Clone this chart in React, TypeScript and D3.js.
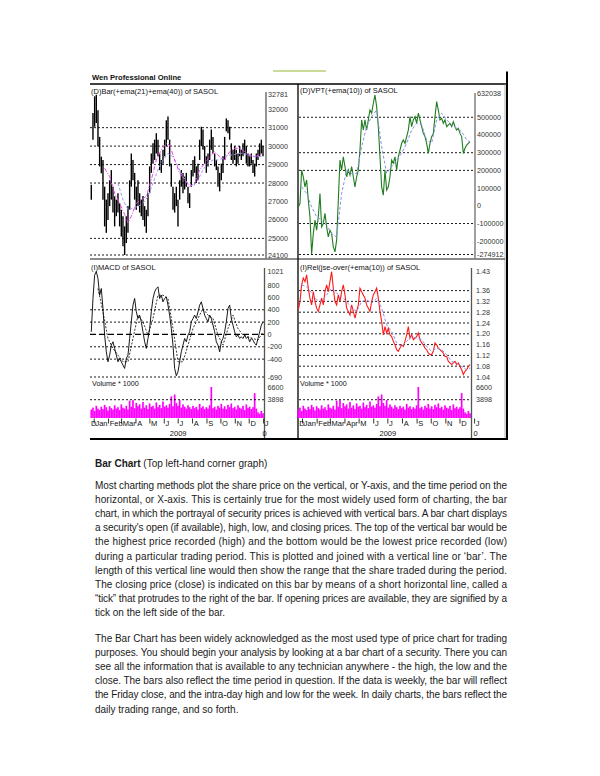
import React from 'react';
import * as d3 from 'd3';

// SASOL 2009, one bar every ~2.5 trading days
const priceHigh = [
  27900, 31800, 32700, 32781, 31950, 30500, 29430, 29250, 27800, 27100,
  27450, 28150, 28700, 27800, 27280, 27100, 27450, 26900, 26550, 26200,
  25650, 26200, 26750, 28150, 29600, 29250, 28550, 27800, 28150, 27450,
  27100, 27300, 26750, 26550, 27450, 28900, 29600, 30150, 30350, 30700,
  30350, 29600, 29250, 29800, 30350, 31400, 31600, 30350, 29050, 27800,
  27450, 27800, 27100, 28150, 28700, 28550, 28350, 28550, 27800, 27450,
  28700, 29250, 29450, 28900, 29050, 30350, 31050, 30900, 30000, 29450,
  29600, 30350, 30900, 30500, 29600, 29250, 28900, 28550, 29050, 29450,
  30500, 31500, 31400, 31050, 30150, 29800, 30000, 29800, 29600, 30000,
  29800, 30150, 30350, 30000, 29600, 29450, 29600, 29250, 29050, 29600,
  29800, 30150, 30350, 30000,
];
const priceLow = [
  27100, 30350, 31050, 31250, 29980, 28900, 28530, 27100, 25650, 25300,
  26000, 26750, 27100, 26400, 25650, 26200, 26400, 25650, 25100, 24570,
  24100, 24750, 25300, 26550, 27800, 28150, 27100, 26550, 26750, 26400,
  26200, 26000, 25650, 25300, 26200, 27450, 28550, 29050, 29250, 29600,
  29450, 28700, 28550, 29050, 29450, 30000, 30350, 28900, 27800, 26550,
  26400, 26750, 25650, 27100, 27800, 27450, 27650, 27800, 26900, 26650,
  27800, 28350, 28550, 28000, 28150, 29250, 30000, 29800, 29050, 28550,
  28900, 29250, 29800, 29600, 28900, 28700, 27800, 27550, 28150, 28550,
  29250, 30800, 30700, 30350, 29250, 29050, 29250, 28900, 29050, 29450,
  29250, 29450, 29600, 29050, 28900, 28900, 29050, 28550, 28350, 28900,
  29250, 29450, 29600, 29450,
];
const ema21Day = [8, 11, 14, 17, 20, 22, 24, 27, 30, 33, 36, 39, 42, 45, 47, 50, 53, 56, 59, 62, 65, 68, 71, 74, 77, 80, 83, 86, 89, 92, 95, 98, 101, 103];
const ema21 = [28800, 28350, 27450, 26900, 26300, 25850, 26200, 26900, 27100, 27280, 28170, 29250, 29800, 30150, 30060, 29250, 28530, 28170, 27810, 28000, 28710, 29070, 29430, 29700, 29430, 29250, 29700, 29880, 29880, 29700, 29520, 29430, 29520, 29610];
const ema40Day = [16, 19, 22, 25, 28, 31, 34, 37, 40, 43, 46, 49, 52, 55, 58, 61, 64, 67, 70, 73, 76, 79, 82, 85, 88, 91, 94, 97, 100, 103];
const ema40 = [27990, 27090, 26550, 26640, 26730, 26910, 27270, 27990, 28710, 29250, 29610, 29430, 28900, 28350, 27990, 27810, 28170, 28710, 29070, 29250, 29250, 29340, 29520, 29520, 29610, 29610, 29520, 29430, 29430, 29430];

// VPT in thousands
const vpt = [
  -6, 13, 202, 164, 107, 145, 32, -62, -272, -157,
  -81, -138, -62, 70, -119, -100, -43, -119, -176, -138,
  -157, -232, -260, -194, 32, 258, 202, 277, 221, 164,
  202, 173, 221, 164, 107, 164, 202, 315, 485, 428,
  485, 428, 485, 541, 523, 579, 626, 560, 447, 277,
  107, 60, 202, 89, 107, 164, 258, 240, 277, 202,
  277, 315, 353, 372, 353, 391, 428, 504, 447, 485,
  504, 466, 523, 485, 447, 409, 391, 353, 296, 353,
  391, 409, 504, 589, 541, 485, 494, 466, 485, 447,
  457, 466, 447, 475, 447, 428, 438, 409, 391, 296,
  325, 343, 353, 362,
];
const vptEmaDay = [2, 5, 8, 11, 14, 17, 20, 23, 26, 29, 32, 35, 38, 41, 44, 47, 50, 53, 56, 59, 62, 65, 68, 71, 74, 77, 80, 83, 86, 89, 92, 95, 98, 101, 103];
const vptEma = [107, 70, -6, -62, -81, -110, -157, -176, 70, 202, 183, 183, 334, 447, 504, 541, 334, 183, 221, 258, 296, 353, 428, 466, 457, 372, 353, 485, 523, 485, 457, 438, 419, 372, 362];

const macd = [
  43, 583, 961, 1021, 907, 637, 745, 421, -11, -281,
  -443, -335, -173, -119, -227, -335, -443, -389, -443, -497,
  -551, -389, -335, -65, 205, 475, 583, 367, 259, 313,
  205, 43, -119, -227, -65, 97, 367, 583, 691, 745,
  772, 583, 637, 529, 583, 610, 475, 313, 97, -173,
  -551, -670, -605, -443, -281, -173, -65, -119, -11, 43,
  205, 259, 313, 259, 367, 475, 529, 421, 313, 259,
  205, 313, 259, 151, 43, -119, -173, -281, -119, -65,
  43, 205, 421, 475, 259, 151, 43, -38, -11, -65,
  -38, -65, -11, -65, -38, -119, -65, -92, -146, -173,
  -65, 43, 151, 205,
];
const signalDay = [4, 7, 10, 13, 16, 19, 22, 25, 28, 31, 34, 37, 40, 43, 46, 49, 52, 55, 58, 61, 64, 67, 70, 73, 76, 79, 82, 85, 88, 91, 94, 97, 100, 103];
const signal = [745, 367, -65, -227, -335, -443, -443, -65, 313, 205, -11, 259, 637, 637, 583, 97, -443, -443, -173, 97, 259, 421, 313, 259, -11, -173, 97, 313, 97, -11, -38, -65, -92, 43];

const ratio = [
  1.289, 1.319, 1.381, 1.406, 1.393, 1.418, 1.369, 1.332, 1.307, 1.356,
  1.319, 1.295, 1.283, 1.307, 1.332, 1.307, 1.356, 1.381, 1.356, 1.393,
  1.430, 1.369, 1.319, 1.307, 1.344, 1.319, 1.356, 1.381, 1.344, 1.295,
  1.283, 1.270, 1.307, 1.283, 1.258, 1.283, 1.307, 1.369, 1.356, 1.344,
  1.332, 1.307, 1.295, 1.283, 1.319, 1.344, 1.356, 1.369, 1.332, 1.283,
  1.246, 1.196, 1.227, 1.203, 1.221, 1.196, 1.190, 1.172, 1.159, 1.141,
  1.135, 1.147, 1.159, 1.153, 1.172, 1.196, 1.227, 1.184, 1.196, 1.178,
  1.184, 1.190, 1.203, 1.178, 1.166, 1.159, 1.147, 1.141, 1.129, 1.123,
  1.123, 1.135, 1.166, 1.159, 1.147, 1.141, 1.135, 1.129, 1.116, 1.116,
  1.098, 1.092, 1.086, 1.092, 1.098, 1.086, 1.092, 1.079, 1.067, 1.049,
  1.061, 1.067, 1.079, 1.086,
];
const ratioEmaDay = vptEmaDay;
const ratioEma = [1.381, 1.375, 1.350, 1.326, 1.319, 1.344, 1.369, 1.350, 1.338, 1.319, 1.295, 1.283, 1.319, 1.326, 1.313, 1.332, 1.295, 1.233, 1.209, 1.166, 1.153, 1.172, 1.190, 1.184, 1.178, 1.153, 1.135, 1.147, 1.141, 1.123, 1.098, 1.092, 1.079, 1.067, 1.073];

// volume in thousands
const volume = [
  1800, 2200, 1500, 2600, 2000, 1700, 2400, 1900, 2800, 2300,
  1600, 2500, 2100, 1800, 2700, 2000, 2300, 1700, 2900, 2200,
  2000, 2600, 1800, 3700, 2400, 3800, 2100, 3200, 2500, 2900,
  2000, 3400, 2200, 2700, 1900, 3100, 2400, 2600, 2000, 3300,
  2300, 2800, 2100, 3500, 2400, 2700, 2200, 3000, 4600, 2500,
  5000, 3200, 2600, 3800, 2200, 2900, 2400, 2000, 2700, 2300,
  1900, 2600, 2100, 2400, 1800, 3000, 2200, 2500, 1900, 2300,
  2000, 2700, 6600, 2100, 2400, 1800, 2600, 2200, 3000, 2000,
  2500, 1900, 2800, 2300, 3100, 2100, 2400, 1800, 2700, 2200,
  2000, 2600, 1700, 2900, 2100, 2400, 1900, 2300, 5300, 2000,
  1200, 900, 1500, 1000,
];

const priceTicks = [32781, 32000, 31000, 30000, 29000, 28000, 27000, 26000, 25000, 24100];
const priceGrid = [31000, 30000, 29000, 28000, 25000, 24100];
const vptTicks = [632038, 500000, 400000, 300000, 200000, 100000, 0, -100000, -200000, -274912];
const vptGrid = [500000, 300000, 200000, -100000, -274912];
const macdTicks = [1021, 800, 600, 400, 200, 0, -200, -400, -690];
const macdGrid = [400, 200, -200, -400, -690];
const ratioTicks = [1.43, 1.36, 1.32, 1.28, 1.24, 1.20, 1.16, 1.12, 1.08, 1.04];
const ratioGrid = [1.36, 1.32, 1.28, 1.24, 1.20, 1.16, 1.12, 1.08, 1.04];
const volTicks = [6600, 3898];
const volGrid = [3898];
const monthsLeft = ['Jan', 'Feb', 'Mar', 'A', 'M', 'J', 'J', 'A', 'S', 'O', 'N', 'D', 'J'];
const monthsRight = ['Jan', 'Feb', 'Mar', 'Apr', 'M', 'J', 'J', 'A', 'S', 'O', 'N', 'D', 'J'];

const para1 = [
  'Most charting methods plot the share price on the vertical, or Y-axis, and the time period on the',
  'horizontal, or X-axis. This is certainly true for the most widely used form of charting, the bar',
  'chart, in which the portrayal of security prices is achieved with vertical bars. A bar chart displays',
  "a security's open (if available), high, low, and closing prices. The top of the vertical bar would be",
  'the highest price recorded (high) and the bottom would be the lowest price recorded (low)',
  'during a particular trading period. This is plotted and joined with a vertical line or \u2018bar\u2019. The',
  'length of this vertical line would then show the range that the share traded during the period.',
  'The closing price (close) is indicated on this bar by means of a short horizontal line, called a',
  '\u201Ctick\u201D that protrudes to the right of the bar. If opening prices are available, they are signified by a',
  'tick on the left side of the bar.',
];
const para2 = [
  'The Bar Chart has been widely acknowledged as the most used type of price chart for trading',
  'purposes. You should begin your analysis by looking at a bar chart of a security. There you can',
  'see all the information that is available to any technician anywhere - the high, the low and the',
  'close. The bars also reflect the time period in question. If the data is weekly, the bar will reflect',
  'the Friday close, and the intra-day high and low for the week. In daily charts, the bars reflect the',
  'daily trading range, and so forth.',
];

const FONT = "'Liberation Sans', Arial, sans-serif";

const Grid = ({ vals, y, x0, x1 }: { vals: number[]; y: (v: number) => number; x0: number; x1: number }) => (
  <g>
    {vals.map((v, i) => (
      <line key={i} x1={x0} x2={x1} y1={y(v)} y2={y(v)} stroke="#000" strokeWidth={0.9} strokeDasharray="2,2" />
    ))}
  </g>
);

const Labels = ({ vals, y, x, fmt }: { vals: number[]; y: (v: number) => number; x: number; fmt?: (v: number) => string }) => (
  <g fontSize={7.2} fill="#333">
    {vals.map((v, i) => (
      <text key={i} x={x} y={y(v) + 2.5}>{fmt ? fmt(v) : String(v)}</text>
    ))}
  </g>
);

const MonthAxis = ({ t, labels, yearX }: { t: d3.ScaleTime<number, number>; labels: string[]; yearX: number }) => {
  const months = d3.timeMonth.range(new Date(2009, 0, 1), new Date(2010, 0, 2));
  const x0 = t.range()[0];
  return (
    <g fontSize={7.5} fill="#111">
      <text x={x0 + 1} y={425.5}>D</text>
      {months.map((m, i) => (
        <g key={i}>
          <line x1={t(m)} x2={t(m)} y1={418.5} y2={423.5} stroke="#000" strokeWidth={0.8} />
          <text x={t(m) + 1.2} y={425.5}>{labels[i]}</text>
        </g>
      ))}
      <text x={yearX} y={435.5} textAnchor="middle">2009</text>
      <text x={t(months[months.length - 1]) - 1} y={435.5}>0</text>
    </g>
  );
};

export default function App() {
  const leftX = d3.scaleLinear().domain([0, 103]).range([91.3, 263]);
  const rightX = d3.scaleLinear().domain([0, 103]).range([298.3, 470]);
  const leftT = d3.scaleTime().domain([new Date(2008, 11, 23), new Date(2010, 0, 4)]).range([90, 265]);
  const rightT = d3.scaleTime().domain([new Date(2008, 11, 23), new Date(2010, 0, 4)]).range([298.3, 476]);

  const yPrice = d3.scaleLinear().domain([24100, 32781]).range([255, 94.8]);
  const yVpt = d3.scaleLinear().domain([-274912, 632038]).range([254.5, 93.9]);
  const yMacd = d3.scaleLinear().domain([-690, 1021]).range([377, 271.5]);
  const yRatio = d3.scaleLinear().domain([1.04, 1.43]).range([377, 271.7]);
  const yVol = d3.scaleLinear().domain([0, 6600]).range([418, 387]);

  const dayLine = (x: d3.ScaleLinear<number, number>, y: d3.ScaleLinear<number, number>, days: number[]) =>
    d3.line<number>().x((_, i) => x(days[i])).y((d) => y(d));
  const seqLine = (x: d3.ScaleLinear<number, number>, y: d3.ScaleLinear<number, number>, k = 1) =>
    d3.line<number>().x((_, i) => x(i)).y((d) => y(d * k));

  const midYear = new Date(2009, 6, 1);

  const volBars = (x: d3.ScaleLinear<number, number>) =>
    volume.map((v, i) => (
      <rect key={i} x={x(i) - 0.85} width={1.7} y={yVol(v)} height={yVol(0) - yVol(v)} fill="#ff00ff" />
    ));

  return (
    <svg width={600} height={776} style={{ position: 'absolute', left: 0, top: 0, background: '#fff' }} fontFamily={FONT}>
      <rect width={600} height={776} fill="#fff" />

      {/* frame */}
      <line x1={273} x2={326} y1={71} y2={71} stroke="#b9cf78" strokeWidth={1.6} />
      <text x={92} y={79.5} fontSize={7.6} fontWeight="bold" fill="#111">Wen Professional Online</text>
      <line x1={90} x2={508} y1={84} y2={84} stroke="#000" strokeWidth={1.6} />
      <line x1={507} x2={507} y1={71.5} y2={440} stroke="#000" strokeWidth={2} />
      <line x1={505} x2={505} y1={84} y2={439} stroke="#999" strokeWidth={0.8} />
      <line x1={90} x2={508} y1={439} y2={439} stroke="#000" strokeWidth={2} />
      <line x1={298} x2={298} y1={84} y2={439} stroke="#000" strokeWidth={1.3} />
      <line x1={90} x2={505} y1={259} y2={259} stroke="#000" strokeWidth={0.9} />

      {/* top-left: bars + emas */}
      <text x={91} y={93.5} fontSize={7.5} fill="#111">(D)Bar(+ema(21)+ema(40)) of SASOL</text>
      <Grid vals={priceGrid} y={yPrice} x0={90} x1={265} />
      {priceHigh.map((h, i) => (
        <line key={i} x1={leftX(i)} x2={leftX(i)} y1={yPrice(h)} y2={yPrice(priceLow[i])} stroke="#000" strokeWidth={1.4} />
      ))}
      <path d={dayLine(leftX, yPrice, ema40Day)(ema40) || ''} fill="none" stroke="#9a9af0" strokeWidth={1} strokeDasharray="3,2" />
      <path d={dayLine(leftX, yPrice, ema21Day)(ema21) || ''} fill="none" stroke="#f040f0" strokeWidth={1} strokeDasharray="4,1.5,1,1.5" />
      <line x1={266} x2={266} y1={92} y2={258.5} stroke="#666" strokeWidth={1.4} />
      <Labels vals={priceTicks} y={yPrice} x={268} />

      {/* top-right: VPT */}
      <text x={300} y={93} fontSize={7.5} fill="#111">(D)VPT(+ema(10)) of SASOL</text>
      <Grid vals={vptGrid} y={yVpt} x0={299} x1={475} />
      <path d={seqLine(rightX, yVpt, 1000)(vpt) || ''} fill="none" stroke="#1f7d1f" strokeWidth={1.1} />
      <path d={dayLine(rightX, (v: number) => yVpt(v * 1000), vptEmaDay)(vptEma) || ''} fill="none" stroke="#8e8ee8" strokeWidth={1} strokeDasharray="3,2" />
      <line x1={475} x2={475} y1={93} y2={258.5} stroke="#777" strokeWidth={1.4} />
      <Labels vals={vptTicks} y={yVpt} x={477} />

      {/* bottom-left: MACD + volume */}
      <text x={91} y={269.5} fontSize={7.5} fill="#111">(I)MACD of SASOL</text>
      <Grid vals={macdGrid} y={yMacd} x0={90} x1={264} />
      <line x1={90} x2={264} y1={yMacd(0)} y2={yMacd(0)} stroke="#000" strokeWidth={1.3} strokeDasharray="6,3" />
      <path d={dayLine(leftX, yMacd, signalDay)(signal) || ''} fill="none" stroke="#000" strokeWidth={0.8} strokeDasharray="2,1.5" />
      <path d={seqLine(leftX, yMacd)(macd) || ''} fill="none" stroke="#000" strokeWidth={0.9} />
      <Labels vals={macdTicks} y={yMacd} x={267.5} />
      <text x={92} y={386} fontSize={7.2} fill="#111">Volume * 1000</text>
      {volBars(leftX)}
      <Grid vals={volGrid} y={yVol} x0={90} x1={264} />
      <Labels vals={volTicks} y={yVol} x={267.5} />
      <line x1={264.5} x2={264.5} y1={268} y2={438} stroke="#555" strokeWidth={1.3} />
      <MonthAxis t={leftT} labels={monthsLeft} yearX={leftT(midYear)} />

      {/* bottom-right: relative strength + volume */}
      <text x={300} y={269.5} fontSize={7.5} fill="#111">(I)Rel(jse-over(+ema(10)) of SASOL</text>
      <Grid vals={ratioGrid} y={yRatio} x0={299} x1={471} />
      <path d={seqLine(rightX, yRatio)(ratio) || ''} fill="none" stroke="#ff1a1a" strokeWidth={1.1} />
      <path d={dayLine(rightX, yRatio, ratioEmaDay)(ratioEma) || ''} fill="none" stroke="#8e8ee8" strokeWidth={1} strokeDasharray="3,2" />
      <Labels vals={ratioTicks} y={yRatio} x={476} fmt={(v) => v.toFixed(2)} />
      <text x={300} y={386} fontSize={7.2} fill="#111">Volume * 1000</text>
      {volBars(rightX)}
      <Grid vals={volGrid} y={yVol} x0={299} x1={471} />
      <Labels vals={volTicks} y={yVol} x={476} />
      <line x1={471.5} x2={471.5} y1={268} y2={438} stroke="#555" strokeWidth={1.3} />
      <MonthAxis t={rightT} labels={monthsRight} yearX={rightT(midYear)} />

      {/* body text */}
      <g fontSize={10} fill="#1a1a1a">
        <text x={95} y={467}>
          <tspan fontWeight="bold">Bar Chart</tspan> (Top left-hand corner graph)
        </text>
        {para1.map((s, i) => (
          <text key={i} x={95} y={488.5 + i * 14.2}
            {...(i < para1.length - 1 ? { textLength: 412, lengthAdjust: 'spacing' } : {})}>{s}</text>
        ))}
        {para2.map((s, i) => (
          <text key={i} x={95} y={641.5 + i * 14.2}
            {...(i < para2.length - 1 ? { textLength: 412, lengthAdjust: 'spacing' } : {})}>{s}</text>
        ))}
      </g>
    </svg>
  );
}
